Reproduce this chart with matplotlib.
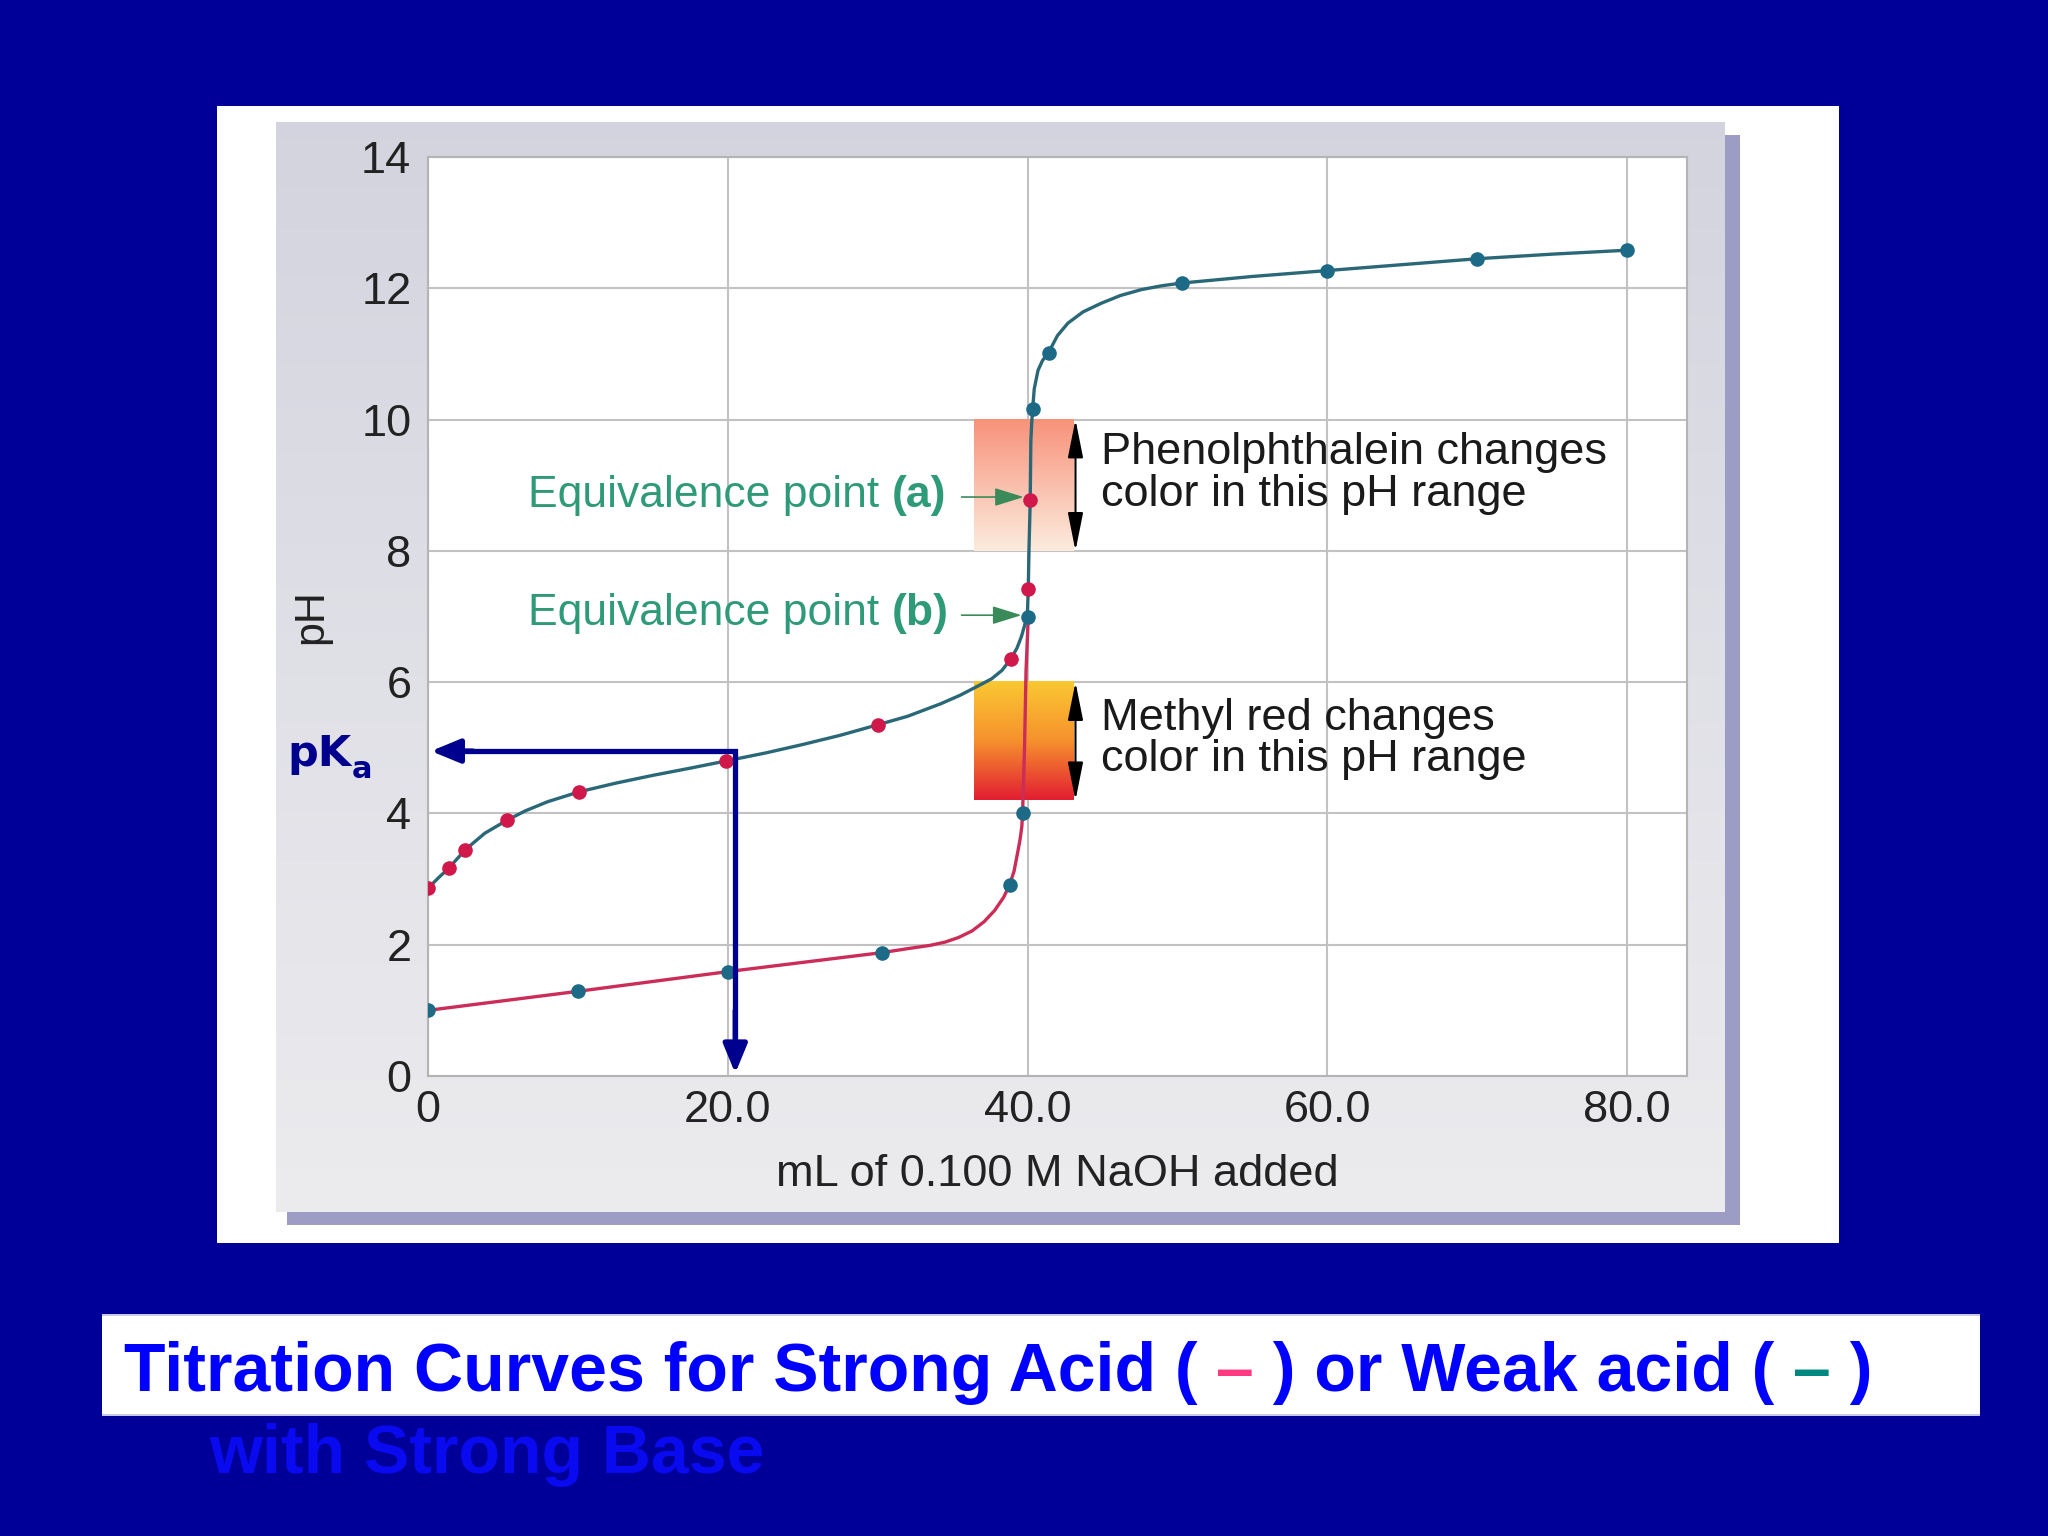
import numpy as np
import matplotlib.pyplot as plt
from matplotlib.patches import Rectangle

W, H = 2048, 1536

# strong acid: dots (teal)
strong_ml = [0, 10, 20, 30.3, 38.8, 39.67, 40.05, 40.34, 41.4, 50.3, 60, 70, 80]
strong_ph = [1.0, 1.29, 1.59, 1.88, 2.91, 4.0, 7.0, 10.16, 11.02, 12.08, 12.27, 12.45, 12.58]
# traced path of the strong acid (pink) curve
strong_line_ml = [0, 10, 20, 30.3, 32.0, 33.5, 34.5, 35.4, 36.3, 37.1, 37.8, 38.4, 38.8,
                  39.1, 39.33, 39.5, 39.62, 39.67, 39.8, 39.9, 40.05]
strong_line_ph = [1.0, 1.29, 1.59, 1.88, 1.94, 1.99, 2.04, 2.11, 2.21, 2.35, 2.52, 2.72, 2.91,
                  3.12, 3.39, 3.6, 3.8, 4.0, 5.0, 6.17, 7.0]

# weak acid: dots (red)
weak_ml = [0, 1.4, 2.5, 5.3, 10.1, 19.9, 30, 38.9, 40.05, 40.18]
weak_ph = [2.86, 3.17, 3.45, 3.9, 4.33, 4.8, 5.35, 6.36, 7.42, 8.78]
# traced path of the weak acid (teal) curve, shared with strong acid past equivalence
weak_line_ml = [0, 0.7, 1.4, 2.5, 3.8, 5.3, 6.5, 8.0, 10.1, 12.5, 15, 17.5, 19.9, 22.5, 25,
                27.5, 30, 32, 34.2, 35.5, 36.6, 37.6, 38.3, 38.9, 39.3, 39.6, 39.85, 40.0,
                40.05, 40.1, 40.18, 40.22, 40.28, 40.34, 40.45, 40.7, 41.0, 41.4, 42.0, 42.7,
                43.7, 44.9, 46.2, 47.6, 49.0, 50.3, 55, 60, 65, 70, 75, 80]
weak_line_ph = [2.86, 3.02, 3.17, 3.45, 3.7, 3.9, 4.04, 4.18, 4.33, 4.46, 4.58, 4.69, 4.8, 4.92, 5.05,
                5.19, 5.35, 5.48, 5.67, 5.8, 5.93, 6.05, 6.18, 6.36, 6.52, 6.7, 6.9, 7.1,
                7.42, 8.04, 8.78, 9.67, 9.95, 10.16, 10.47, 10.75, 10.9, 11.02, 11.28, 11.47,
                11.64, 11.77, 11.89, 11.98, 12.04, 12.08, 12.18, 12.27, 12.36, 12.45, 12.52, 12.58]

x_ticks = [0, 20, 40, 60, 80]
x_tick_labels = ['0', '20.0', '40.0', '60.0', '80.0']
y_ticks = [0, 2, 4, 6, 8, 10, 12, 14]

phenol_range = (8.0, 10.0)
methyl_range = (4.2, 6.0)
box_ml = (36.45, 43.1)
pka = 4.95
half_eq_ml = 20.5

NAVY = '#000099'
TEAL_LINE = '#2a6878'
PINK_LINE = '#cc2c58'
TEAL_DOT = '#1c6a86'
RED_DOT = '#d0184a'
GREEN_TXT = '#2e9a78'
FONT = 'Liberation Sans'


def fr(x0, y0, x1, y1):
    # pixel box (top-left origin) -> figure fraction rect
    return [x0 / W, 1 - y1 / H, (x1 - x0) / W, (y1 - y0) / H]


def box(x0, y0, x1, y1, color, z):
    l, b, w, h = fr(x0, y0, x1, y1)
    fig.add_artist(Rectangle((l, b), w, h, transform=fig.transFigure,
                             facecolor=color, edgecolor='none', zorder=z))


fig = plt.figure(figsize=(W / 100, H / 100), dpi=100)
fig.patch.set_facecolor(NAVY)

# white slide panel + grey frame with shadow
box(217, 106, 1839, 1243, 'white', -5)
box(1725, 135, 1740, 1225, '#9c9cc4', -4)
box(287, 1212, 1740, 1225, '#9c9cc4', -4)
bg = fig.add_axes(fr(276, 122, 1725, 1212), zorder=-1)
grad = np.linspace(0, 1, 256)[:, None]
top_c = np.array([0.83, 0.83, 0.875])
bot_c = np.array([0.925, 0.925, 0.935])
bg.imshow((top_c + (bot_c - top_c) * grad[:, :, None]).repeat(2, axis=1), aspect='auto')
bg.axis('off')

ax = fig.add_axes(fr(428, 157, 1687, 1076), zorder=1)
ax.set_facecolor('white')

# indicator colour boxes
ph_grad = np.linspace(0, 1, 128)[:, None, None]
c_top = np.array([247, 146, 122]) / 255
c_bot = np.array([252, 236, 222]) / 255
ax.imshow(c_top + (c_bot - c_top) * ph_grad, extent=(box_ml[0], box_ml[1], phenol_range[0], phenol_range[1]),
          aspect='auto', zorder=2, origin='upper')
stops = np.array([[250, 200, 50], [246, 145, 45], [226, 30, 50]]) / 255
t = np.linspace(0, 1, 128)
mr = np.stack([np.interp(t, [0, 0.5, 1], stops[:, k]) for k in range(3)], axis=1)[:, None, :]
ax.imshow(mr, extent=(box_ml[0], box_ml[1], methyl_range[0], methyl_range[1]),
          aspect='auto', zorder=2, origin='upper')

ax.plot(strong_line_ml, strong_line_ph, color=PINK_LINE, lw=2.4, zorder=3)
ax.plot(weak_line_ml, weak_line_ph, color=TEAL_LINE, lw=2.4, zorder=4)
ax.plot(strong_ml, strong_ph, 'o', color=TEAL_DOT, ms=10.5, mew=0, zorder=5)
ax.plot(weak_ml, weak_ph, 'o', color=RED_DOT, ms=10.5, mew=0, zorder=5)

ax.set_xlim(0, 84)
ax.set_ylim(0, 14)
ax.set_xticks(x_ticks)
ax.set_xticklabels(x_tick_labels)
ax.set_yticks(y_ticks)
ax.grid(True, color='#c2c2c2', lw=1.5, zorder=0)
ax.set_axisbelow(True)
for s in ax.spines.values():
    s.set_color('#b4b4b4')
    s.set_linewidth(1.5)
ax.tick_params(length=0, labelsize=32.5, colors='#222222')
ax.tick_params(axis='y', pad=12)
ax.tick_params(axis='x', pad=10)
for lab in ax.get_xticklabels() + ax.get_yticklabels():
    lab.set_fontfamily(FONT)

ax.text(0.5, -0.1077, 'mL of 0.100 M NaOH added', transform=ax.transAxes, ha='center', va='center',
        fontsize=32.5, family=FONT, color='#222222')
ax.text(-0.093, 0.5, 'pH', transform=ax.transAxes, ha='center', va='center', rotation=90,
        fontsize=31, family=FONT, color='#222222')

# equivalence point labels
for ph, tag, tip in [(8.84, '(a)', 39.75), (7.04, '(b)', 39.6)]:
    txt = ax.text(6.7, ph, 'Equivalence point ', fontsize=32, family=FONT, color=GREEN_TXT,
                  ha='left', va='center', zorder=6)
    ax.annotate(tag, xy=(1, 0.5), xycoords=txt, ha='left', va='center', fontsize=32,
                family=FONT, color=GREEN_TXT, fontweight='bold', zorder=6)
    ax.annotate('', xy=(tip, ph - 0.02), xytext=(35.6, ph - 0.02),
                arrowprops=dict(arrowstyle='-|>,head_length=0.9,head_width=0.28', color='#3a8a5a',
                                lw=1.2, shrinkA=0, shrinkB=0, mutation_scale=20), zorder=6)

# indicator ranges
for lo, hi, l1, l2, y1, y2 in [(8.0, 10.0, 'Phenolphthalein changes', 'color in this pH range', 9.5, 8.86),
                               (4.2, 6.0, 'Methyl red changes', 'color in this pH range', 5.45, 4.82)]:
    ax.annotate('', xy=(43.2, hi), xytext=(43.2, lo),
                arrowprops=dict(arrowstyle='<|-|>,head_length=0.9,head_width=0.18', color='black',
                                lw=1.5, shrinkA=0, shrinkB=0, mutation_scale=26), zorder=6)
    ax.text(44.9, y1, l1, fontsize=32.5, family=FONT, color='#1a1a1a', va='center', zorder=6)
    ax.text(44.9, y2, l2, fontsize=32.5, family=FONT, color='#1a1a1a', va='center', zorder=6)

# pKa construction
PK = '#00008e'
ax.plot([1.5, half_eq_ml, half_eq_ml], [pka, pka, 0.4], color=PK, lw=3.8,
        solid_joinstyle='miter', zorder=7, clip_on=False)
ax.annotate('', xy=(0.2, pka), xytext=(3.0, pka),
            arrowprops=dict(arrowstyle='-|>,head_length=0.8,head_width=0.33', color=PK, lw=3.8,
                            shrinkA=0, shrinkB=0, mutation_scale=22), zorder=7, annotation_clip=False)
ax.annotate('', xy=(half_eq_ml, 0.04), xytext=(half_eq_ml, 1.0),
            arrowprops=dict(arrowstyle='-|>,head_length=0.8,head_width=0.33', color=PK, lw=3.8,
                            shrinkA=0, shrinkB=0, mutation_scale=22), zorder=7, annotation_clip=False)
fig.text(287 / W, 1 - 766 / H, 'pK', fontsize=31, fontweight='bold', family='DejaVu Sans',
         color=PK, va='baseline', ha='left')
fig.text(352 / W, 1 - 778 / H, 'a', fontsize=22, fontweight='bold', family='DejaVu Sans',
         color=PK, va='baseline', ha='left')

# title strip
box(102, 1314, 1980, 1416, 'white', -3)
box(102, 1314, 1980, 1316, '#c8c8ec', -2)
box(102, 1414, 1980, 1416, '#c8c8ec', -2)
r = fig.canvas.get_renderer()
tkw = dict(fontsize=49, fontweight='bold', family=FONT, va='baseline', ha='left')


def width_px(s):
    a = fig.text(0, 0, s + '|', **tkw)
    w1 = a.get_window_extent(r).width
    a.remove()
    b = fig.text(0, 0, '|', **tkw)
    w2 = b.get_window_extent(r).width
    b.remove()
    return w1 - w2


pieces = [('Titration Curves for Strong Acid ( ', '#0000ff'), ('\u2013', '#ff3a80'),
          (' ) or Weak acid ( ', '#0000ff'), ('\u2013', '#008880'), (' )', '#0000ff')]
x = 124
for s, c in pieces:
    fig.text(x / W, 1 - 1391 / H, s, color=c, **tkw)
    x += width_px(s)
fig.text(209 / W, 1 - 1473 / H, 'with Strong Base', color='#0a0af0', **tkw)

fig.savefig('out.png', dpi=100, facecolor=fig.get_facecolor())
